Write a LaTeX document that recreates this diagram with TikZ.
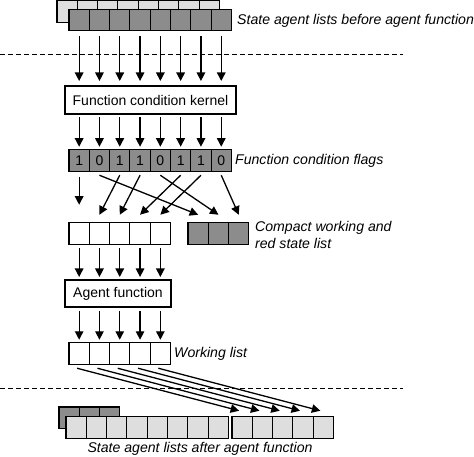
\documentclass[tikz,border=0pt]{standalone}
\usepackage{fontspec}
\setmainfont{Liberation Sans}
\usetikzlibrary{arrows.meta, calc}
\definecolor{cellDark}{gray}{0.55}
\definecolor{cellLight}{gray}{0.87}

\begin{document}
\begin{tikzpicture}[x=1pt, y=-1pt, font=\fontsize{14}{17}\selectfont]
	\tikzstyle{cell}=[draw, line width=1.1pt, minimum width=20.3pt, minimum height=21.5pt, inner sep=0pt, outer sep=0pt]
	\tikzstyle{darkcell}=[cell, fill=cellDark]
	\tikzstyle{lightcell}=[cell, fill=cellLight]
	\tikzstyle{whitecell}=[cell, fill=white]
	\tikzstyle{kernelbox}=[draw, line width=1.1pt, inner sep=0pt, outer sep=0pt, fill=white]
	\tikzstyle{flow}=[-{Triangle[length=8.5pt,width=8.5pt]}, line width=1.3pt]
	\tikzstyle{sep}=[dash pattern=on 5pt off 3pt, line width=0.9pt]
	\tikzstyle{caption}=[font=\fontsize{14.1}{17}\selectfont\itshape, inner sep=0pt]
	\useasboundingbox (0,0) rectangle (474,457);
	% state lists before
	\foreach \i in {1,...,8} \node (preb\i) [lightcell] at (46.85+20.3*\i, 11.5) {};
	\foreach \i in {1,...,8} \node (pre\i) [darkcell] at (58.85+20.3*\i, 20.2) {};
	\node (prelabel) [caption, anchor=west] at (237,21) {State agent lists before agent function};
	\draw[sep] (0,54) -- (403,54);
	% condition kernel and flags
	\node (kernel) [kernelbox, minimum width=171pt, minimum height=28pt] at (150.5,100) {Function condition kernel};
	\foreach \i in {1,...,8} \draw[flow, shorten <=5pt, shorten >=5pt] (pre\i.south) -- (pre\i.south |- kernel.north);
	\foreach \i/\d in {1/1,2/0,3/1,4/1,5/0,6/1,7/1,8/0} \node (flag\i) [darkcell] at (58.85+20.3*\i, 160.5) {\d};
	\foreach \i in {1,...,8} \draw[flow, shorten <=3pt, shorten >=3pt] (flag\i.north |- kernel.south) -- (flag\i.north);
	\node (flaglabel) [caption, anchor=west] at (235,160.5) {Function condition flags};
	% compaction
	\foreach \i in {1,...,5} \node (work\i) [whitecell] at (58.85+20.3*\i, 233.5) {};
	\foreach \i in {1,2,3} \node (comp\i) [darkcell] at (177.85+20.3*\i, 233.5) {};
	\node (complabel) [caption, anchor=west, align=left] at (255,234.5) {Compact working and\\red state list};
	\draw[flow] ($(flag1.south)+(0,6)$) -- ($(work1.north)+(0,-18)$);
	\foreach \a/\b in {flag2/comp1, flag3/work2, flag4/work3, flag5/comp2, flag6/work4, flag7/work5, flag8/comp3}
		\draw[flow] ($(\a.south)+(0,4)$) -- ($(\b.north)+(0,-8)$);
	% agent function
	\node (agent) [kernelbox, minimum width=106pt, minimum height=27pt] at (118,293.5) {Agent function};
	\foreach \i in {1,...,5} \draw[flow, shorten <=4pt, shorten >=3pt] (work\i.south) -- (work\i.south |- agent.north);
	\foreach \i in {1,...,5} \node (out\i) [whitecell] at (58.85+20.3*\i, 353.5) {};
	\foreach \i in {1,...,5} \draw[flow, shorten <=4pt, shorten >=3pt] (out\i.north |- agent.south) -- (out\i.north);
	\node (worklabel) [caption, anchor=west] at (174,353.5) {Working list};
	% state lists after
	\draw[sep] (0,388) -- (403,388);
	\foreach \i in {1,2,3} \node (postb\i) [darkcell] at (48.85+20.3*\i, 417.75) {};
	\foreach \i in {1,...,8} \node (post\i) [lightcell] at (55.85+20.3*\i, 427.5) {};
	\foreach \i in {1,...,5} \node (fresh\i) [lightcell] at (221.85+20.3*\i, 427.5) {};
	\foreach \i in {1,...,5} \draw[flow] ($(out\i.south)+(-2,4)$) -- ($(fresh\i.north)+(-3,-6)$);
	\node (postlabel) [caption] at (200,449) {State agent lists after agent function};
\end{tikzpicture}
\end{document}
